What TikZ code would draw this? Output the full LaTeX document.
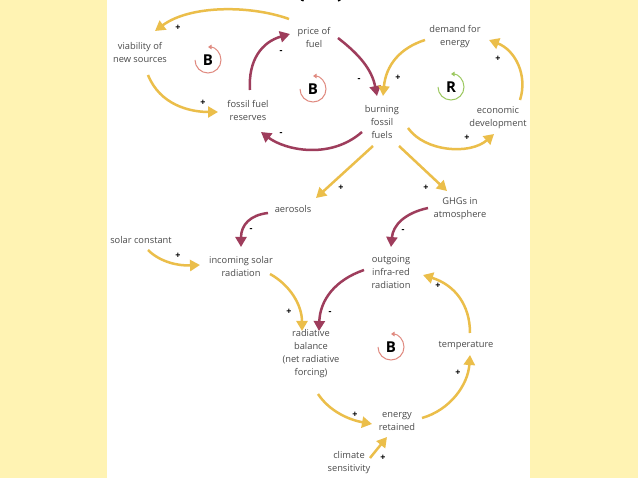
\documentclass[tikz,border=0pt]{standalone}
\usepackage{fontspec}
\setmainfont{Open Sans}
\usetikzlibrary{arrows.meta,calc}
\definecolor{bgy}{HTML}{FFF3B3}
\definecolor{ay}{HTML}{EBBE4A}
\definecolor{am}{HTML}{9E3D5C}
\definecolor{tx}{HTML}{4A4A4A}
\definecolor{lr}{HTML}{E08A80}
\definecolor{lg}{HTML}{9CC860}
\tikzset{
 lbl/.style={font=\fontsize{9.3}{13}\selectfont, text=tx, align=center, inner sep=1pt},
 ya/.style={draw=ay, line width=2.5pt, -{Triangle[length=10pt,width=11pt]}},
 ma/.style={draw=am, line width=2.5pt, -{Triangle[length=10pt,width=11pt]}},
 sg/.style={font=\fontsize{9}{9}\selectfont\bfseries, text=black, inner sep=0pt},
 loopB/.style={font=\fontsize{15}{15}\selectfont\bfseries, inner sep=0pt}
}
\begin{document}
\begin{tikzpicture}[x=1pt,y=-1pt]
\fill[bgy] (0,0) rectangle (638,478);
\fill[white] (107,0) rectangle (530,478);
\useasboundingbox (0,0) rectangle (638,478);
\draw[black, line width=2.5pt] (302,1) arc[start angle=200,end angle=340,radius=20];
% nodes
\node[lbl] (via) at (140,52) {viability of\\new sources};
\node[lbl] (price) at (314,37) {price of\\fuel};
\node[lbl] (dem) at (455,37) {demand for\\energy};
\node[lbl] (res) at (248,110) {fossil fuel\\reserves};
\node[lbl] (burn) at (382,122) {burning\\fossil\\fuels};
\node[lbl] (eco) at (498,118) {economic\\development};
\node[lbl] (aer) at (293,209) {aerosols};
\node[lbl] (ghg) at (460,209) {GHGs in\\atmosphere};
\node[lbl] (sol) at (141,240) {solar constant};
\node[lbl] (inc) at (241,267) {incoming solar\\radiation};
\node[lbl] (out) at (391,272) {outgoing\\infra-red\\radiation};
\node[lbl] (rad) at (311,354) {radiative\\balance\\(net radiative\\forcing)};
\node[lbl] (temp) at (466,346) {temperature};
\node[lbl] (en) at (397,422) {energy\\retained};
\node[lbl] (cli) at (349,463) {climate\\sensitivity};
% loop icons
\foreach \n/\p/\l/\c in {b1/{(208,60)}/B/lr, b2/{(313,89)}/B/lr, r1/{(451,87)}/R/lg, b3/{(391,347)}/B/lr}{
 \node[loopB] (\n) at \p {\l};
 \draw[\c, line width=1pt, -{Triangle[length=3.5pt,width=4.5pt]}] ($(\n)+(-13,0)$) arc[start angle=180,end angle=-90,radius=13];
}
% arrows
\draw[ya] (289,19) .. controls (250,5) and (190,5) .. (155,31);
\draw[ya] (148,75) .. controls (160,105) and (190,112) .. (218,112);
\draw[ma] (250,90) .. controls (248,60) and (262,42) .. (290,34);
\draw[ma] (338,38) .. controls (360,55) and (372,70) .. (377,96);
\draw[ma] (362,132) .. controls (330,160) and (285,150) .. (261,132);
\draw[ya] (425,40) .. controls (400,48) and (386,65) .. (383,96);
\draw[ya] (408,128) .. controls (425,152) and (470,155) .. (494,134);
\draw[ya] (520,100) .. controls (528,75) and (515,50) .. (489,40);
\draw[ya] (373,146) -- (316,198);
\draw[ya] (399,146) -- (447,191);
\draw[ma] (268,213) .. controls (250,215) and (241,225) .. (241,247);
\draw[ma] (428,208) .. controls (405,213) and (393,225) .. (391,247);
\draw[ya] (148,250) .. controls (160,262) and (178,266) .. (200,265);
\draw[ya] (270,274) .. controls (290,285) and (302,305) .. (302,331);
\draw[ma] (364,270) .. controls (335,280) and (320,300) .. (319,331);
\draw[ya] (318,394) .. controls (330,412) and (350,420) .. (372,424);
\draw[ya] (422,418) .. controls (450,410) and (468,385) .. (470,355);
\draw[ya] (470,333) .. controls (470,305) and (455,285) .. (423,275);
\draw[ya] (370,458) -- (387,437);
% signs
\foreach \p/\s in {{(178,28)}/+,{(203,103)}/+,{(281,52)}/-,{(359,80)}/-,{(281,134)}/-,{(398,78)}/+,{(467,138)}/+,{(498,59)}/+,{(341,188)}/+,{(426,188)}/+,{(251,230)}/-,{(403,231)}/-,{(178,256)}/+,{(289,312)}/+,{(330,313)}/-,{(355,415)}/+,{(458,373)}/+,{(438,286)}/+,{(383,458)}/+}
 \node[sg] at \p {\s};
\end{tikzpicture}
\end{document}
